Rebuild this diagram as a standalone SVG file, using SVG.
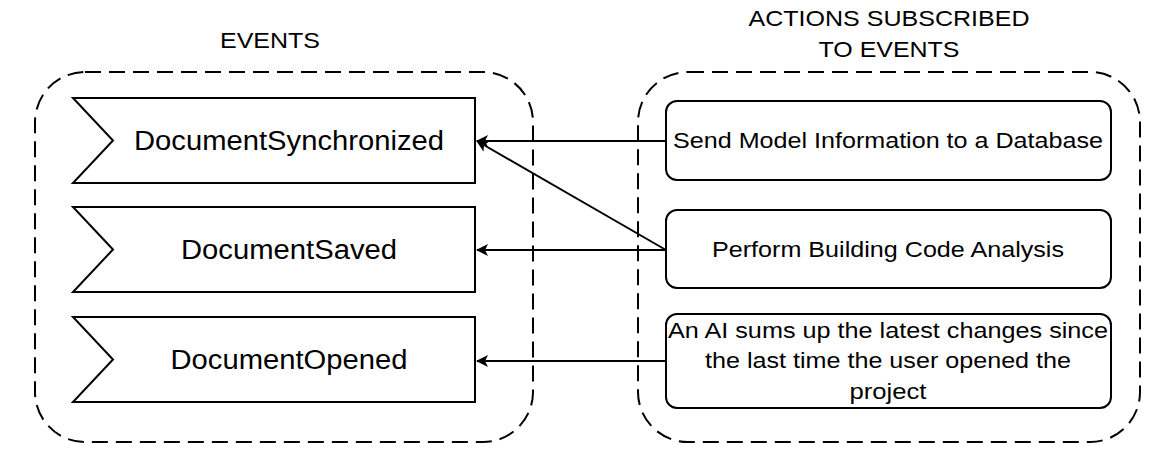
<svg xmlns="http://www.w3.org/2000/svg" width="1176" height="458" viewBox="0 0 1176 458">
<defs>
<style>
.grp{fill:none;stroke:#000;stroke-width:2;stroke-dasharray:16 8}
.ev{fill:#fff;stroke:#000;stroke-width:2}
.ac{fill:#fff;stroke:#000;stroke-width:2}
.t{font-family:"Liberation Sans",Arial,sans-serif;fill:#000;text-anchor:middle}
.e{font-size:27px}
.a{font-size:22px}
.c{stroke:#000;stroke-width:2;fill:none;marker-end:url(#ah)}
</style>
<marker id="ah" viewBox="0 0 12 12" refX="11" refY="6" markerWidth="12" markerHeight="12" orient="auto" markerUnits="userSpaceOnUse">
<path d="M0,0 L12,6 L0,12 L3,6 Z" fill="#000"/>
</marker>
</defs>
<text class="t a" x="270" y="48" textLength="100" lengthAdjust="spacingAndGlyphs">EVENTS</text>
<text class="t a" x="889" y="26" textLength="281" lengthAdjust="spacingAndGlyphs">ACTIONS SUBSCRIBED</text>
<text class="t a" x="889" y="57" textLength="141" lengthAdjust="spacingAndGlyphs">TO EVENTS</text>
<rect class="grp" x="35" y="72" width="498" height="370" rx="50"/>
<rect class="grp" x="638" y="72" width="502" height="370" rx="50"/>
<g id="ev1"><path class="ev" d="M73,98 H475 V183 H73 L113,140.5 Z"/><text class="t e" x="289" y="150" textLength="310" lengthAdjust="spacingAndGlyphs">DocumentSynchronized</text></g>
<g id="ev2"><path class="ev" d="M73,207 H475 V292 H73 L113,249.5 Z"/><text class="t e" x="289" y="259" textLength="216" lengthAdjust="spacingAndGlyphs">DocumentSaved</text></g>
<g id="ev3"><path class="ev" d="M73,317 H475 V402 H73 L113,359.5 Z"/><text class="t e" x="289" y="369" textLength="237" lengthAdjust="spacingAndGlyphs">DocumentOpened</text></g>
<g id="ac1"><rect class="ac" x="666" y="101" width="445" height="79" rx="11"/><text class="t a" x="888" y="148" textLength="430" lengthAdjust="spacingAndGlyphs">Send Model Information to a Database</text></g>
<g id="ac2"><rect class="ac" x="666" y="210" width="445" height="78" rx="11"/><text class="t a" x="888" y="257" textLength="352" lengthAdjust="spacingAndGlyphs">Perform Building Code Analysis</text></g>
<g id="ac3"><rect class="ac" x="666" y="314" width="445" height="94" rx="11"/><text class="t a" x="888" y="338" textLength="440" lengthAdjust="spacingAndGlyphs">An AI sums up the latest changes since</text><text class="t a" x="888" y="368" textLength="366" lengthAdjust="spacingAndGlyphs">the last time the user opened the</text><text class="t a" x="888" y="399" textLength="77" lengthAdjust="spacingAndGlyphs">project</text></g>
<g id="connectors">
<path class="c" d="M666,141 H477"/>
<path class="c" d="M666,250 L477,141"/>
<path class="c" d="M666,250 H477"/>
<path class="c" d="M666,361 H477"/>
</g>
</svg>
